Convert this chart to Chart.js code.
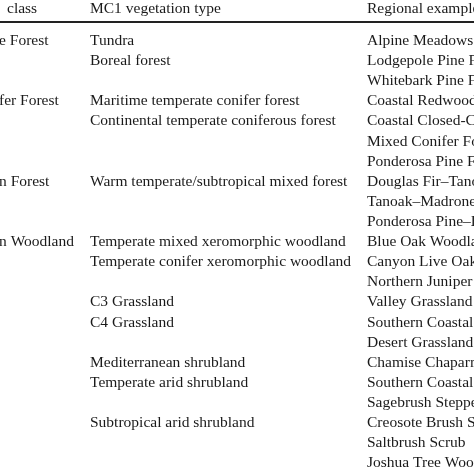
<!DOCTYPE html>
<html>
<head>
<meta charset="utf-8">
<script src="https://cdn.jsdelivr.net/npm/chart.js@4"></script>
<style>
  html, body { margin: 0; padding: 0; background: #fff; }
  #wrap { width: 474px; height: 474px; }
</style>
</head>
<body>
<div id="wrap"><canvas id="table"></canvas></div>
<script>
// table content, one entry per row
const headers = ['class', 'MC1 vegetation type', 'Regional example'];
const classes = ['e Forest', '', '', 'fer Forest', '', '', '', 'n Forest', '', '', 'n Woodland', '', '', '', '', '', '', '', '', '', '', ''];
const vegTypes = ['Tundra', 'Boreal forest', '', 'Maritime temperate conifer forest', 'Continental temperate coniferous forest', '', '', 'Warm temperate/subtropical mixed forest', '', '', 'Temperate mixed xeromorphic woodland', 'Temperate conifer xeromorphic woodland', '', 'C3 Grassland', 'C4 Grassland', '', 'Mediterranean shrubland', 'Temperate arid shrubland', '', 'Subtropical arid shrubland', '', ''];
const examples = ['Alpine Meadows', 'Lodgepole Pine Forest', 'Whitebark Pine Forest', 'Coastal Redwood Forest', 'Coastal Closed-Cone Pine', 'Mixed Conifer Forest', 'Ponderosa Pine Forest', 'Douglas Fir–Tanoak Forest', 'Tanoak–Madrone Forest', 'Ponderosa Pine–Hardwood', 'Blue Oak Woodland', 'Canyon Live Oak', 'Northern Juniper Woodland', 'Valley Grassland', 'Southern Coastal Grassland', 'Desert Grassland', 'Chamise Chaparral', 'Southern Coastal Scrub', 'Sagebrush Steppe', 'Creosote Brush Scrub', 'Saltbrush Scrub', 'Joshua Tree Woodland'];

// layout
const colX = [-1, 90, 367];
const headerX = [7, 90, 367];
const font = '15.5px "Liberation Serif", "DejaVu Serif", serif';

const columns = [classes, vegTypes, examples];
const points = examples.map((e, i) => ({ x: 0, y: i }));

const tablePlugin = {
    id: 'tableText',
    afterDatasetsDraw(chart) {
        const ctx = chart.ctx;
        const y = chart.scales.y;
        ctx.save();
        ctx.font = font;
        ctx.fillStyle = '#1a1a1a';
        ctx.textBaseline = 'middle';
        ctx.textAlign = 'left';
        headers.forEach((h, c) => ctx.fillText(h, headerX[c], y.getPixelForValue(-1.6)));
        columns.forEach((col, c) => {
            col.forEach((txt, i) => {
                if (txt) ctx.fillText(txt, colX[c], y.getPixelForValue(i));
            });
        });
        // rule under the header
        ctx.strokeStyle = '#222';
        ctx.lineWidth = 2;
        ctx.beginPath();
        const ry = y.getPixelForValue(-0.95);
        ctx.moveTo(0, ry);
        ctx.lineTo(chart.width, ry);
        ctx.stroke();
        ctx.restore();
    }
};

new Chart(document.getElementById('table'), {
    type: 'scatter',
    data: { datasets: [{ data: points, pointRadius: 0 }] },
    options: {
        responsive: true,
        maintainAspectRatio: false,
        animation: false,
        layout: { padding: 0 },
        plugins: { legend: { display: false }, tooltip: { enabled: false } },
        scales: {
            x: { display: false, min: 0, max: 1 },
            y: { display: false, reverse: true, min: -2.04, max: 21.54 }
        }
    },
    plugins: [tablePlugin]
});
</script>
</body>
</html>
